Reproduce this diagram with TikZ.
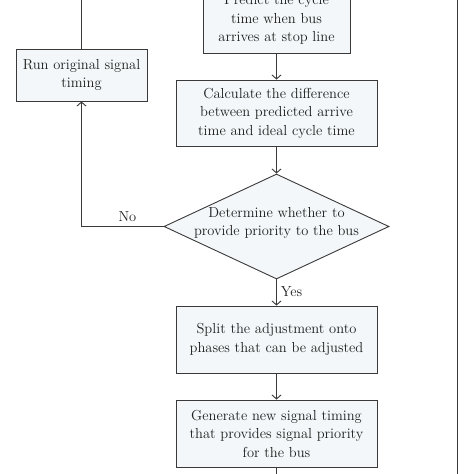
\documentclass[tikz,border=0pt]{standalone}
\usetikzlibrary{shapes.geometric,arrows.meta}
\definecolor{boxfill}{HTML}{F3F7F9}
\definecolor{lnc}{HTML}{3A3A3A}
\definecolor{txt}{HTML}{1E1E1E}
\begin{document}
\begin{tikzpicture}[x=1pt,y=-1pt,
  every node/.style={text=txt,font=\fontsize{14.5}{18.5}\selectfont},
  procbox/.style={draw=lnc,fill=boxfill,line width=0.9pt,align=center,inner sep=0pt},
  arr/.style={draw=lnc,line width=0.9pt,-{Straight Barb[length=4pt,width=9pt]}},
  ln/.style={draw=lnc,line width=0.9pt}]
\useasboundingbox (0,0) rectangle (474,474);
\clip (0,0) rectangle (474,474);
\fill[white] (0,0) rectangle (474,474);
\node[procbox,minimum width=147pt,minimum height=67pt] (predict) at (276.5,19.5) {Predict the cycle\\time when bus\\arrives at stop line};
\node[procbox,minimum width=201pt,minimum height=66pt] (calc) at (276.5,113) {Calculate the difference\\between predicted arrive\\time and ideal cycle time};
\node[procbox,minimum width=131pt,minimum height=52pt] (run) at (81.5,75) {Run original signal\\timing};
\node[diamond,draw=lnc,fill=boxfill,line width=0.9pt,inner sep=0pt,minimum width=225pt,minimum height=105pt] (dec) at (276.5,226.5) {};
\node[align=center] (dectext) at (276.5,223) {Determine whether to\\provide priority to the bus};
\node[procbox,minimum width=201pt,minimum height=67pt] (split) at (276.5,339.5) {Split the adjustment onto\\phases that can be adjusted};
\node[procbox,minimum width=201pt,minimum height=67pt] (gen) at (276.5,433.5) {Generate new signal timing\\that provides signal priority\\for the bus};
\coordinate (runtop) at (81.5,0);
\coordinate (genbot) at (276.5,474);
\coordinate (rtop) at (457.5,0);
\coordinate (rbot) at (457.5,474);
\draw[arr] (predict.south) -- (calc.north);
\draw[arr] (calc.south) -- (dec.north);
\draw[arr] (dec.south) -- node[right,pos=0.45,inner sep=4pt] (yes) {Yes} (split.north);
\draw[arr] (split.south) -- (gen.north);
\draw[arr] (dec.west) -| node[above,pos=0.22,inner sep=4pt] (no) {No} (run.south);
\draw[ln] (run.north) -- (runtop);
\draw[ln] (gen.south) -- (genbot);
\draw[ln] (rtop) -- (rbot);
\end{tikzpicture}
\end{document}
